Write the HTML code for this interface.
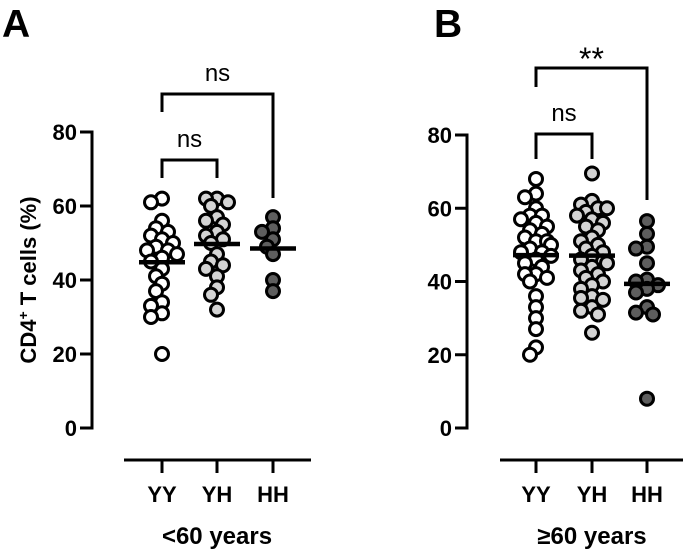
<!DOCTYPE html>
<html><head><meta charset="utf-8"><style>
body{margin:0;background:#fff;}
svg{display:block;font-family:"Liberation Sans",Arial,sans-serif;}
</style></head><body>
<svg id="chart" width="685" height="551" viewBox="0 0 685 551" xmlns="http://www.w3.org/2000/svg">
<g id="root"></g>
</svg>
<script>
const groups = ["YY","YH","HH"];
const fills = ["#ffffff","#d4d4d4","#5e5e5e"];
const yTicks = [0,20,40,60,80];
const aYY = [62,61,56,54,53,52,51,50,49,48,48,47,46,45,43,41,39,37,34,33,31,30,20];
const aYH = [62,62,61,60,57,56,55,53,52,51,50,47,45,44,43,41,38,36,32];
const aHH = [57,54,53,51,49,47,40,37];
const bYY = [68,64,63,60,58,58,57,56,55,54,53,52,51,51,50,49,48,48,47,46,45,44,42,42,41,40,36,33,30,27,22,20];
const bYH = [69.5,62,61,60,60,59,58,57,56,55,54,52,51,50,49,48,47,46,45.5,45,44,43,42,41,40,39,38,36,35.5,35,33,32,31,26];
const bHH = [56.5,53,49.5,49,45,40.5,40,39,38,37,33,31.5,31,8];
const panels = [
 {letter:"A",lx:2,axisX:92,tickLabelX:77,y0:428,y80:132,xs:[162,217,273],axL:124,axR:311,title:"<60 years",
  data:[aYY,aYH,aHH],
  brackets:[{a:0,b:2,y:94,la:112,lb:198,label:"ns",ly:81},{a:0,b:1,y:160,la:178,lb:178,label:"ns",ly:147}]},
 {letter:"B",lx:434,axisX:467,tickLabelX:452,y0:428,y80:135,xs:[536,592,647],axL:500,axR:683,title:"≥60 years",
  data:[bYY,bYH,bHH],
  brackets:[{a:0,b:2,y:68,la:87,lb:200,label:"**",ly:61,star:true},{a:0,b:1,y:134,la:159,lb:159,label:"ns",ly:121}]}
];
const NS="http://www.w3.org/2000/svg";
const root=document.getElementById('root');
function mk(tag,attrs,parent){const e=document.createElementNS(NS,tag);for(const k in attrs)e.setAttribute(k,attrs[k]);(parent||root).appendChild(e);return e;}
panels.forEach((p,pi)=>{
  const yS=v=>p.y0+(p.y80-p.y0)*v/80;
  const g=mk('g',{});
  
  
  const L=mk('text',{x:p.lx,y:37,'font-size':39,'font-weight':'bold'},g);L.textContent=p.letter;
  
  
  const ax=mk('line',{x1:p.axisX,y1:p.y80-1.5,x2:p.axisX,y2:p.y0+1.5,stroke:'#000','stroke-width':3},g);
  
  
  yTicks.forEach(t=>{
    mk('line',{x1:p.axisX-12,y1:yS(t),x2:p.axisX,y2:yS(t),stroke:'#000','stroke-width':3},g);
    const tl=mk('text',{x:p.tickLabelX,y:yS(t)+8,'font-size':22,'font-weight':'bold','text-anchor':'end'},g);
    tl.textContent=t;
    
    
  });
  const xa=mk('line',{x1:p.axL,y1:460,x2:p.axR,y2:460,stroke:'#000','stroke-width':3},g);
  
  
  groups.forEach((gn,i)=>{
    mk('line',{x1:p.xs[i],y1:460,x2:p.xs[i],y2:473,stroke:'#000','stroke-width':3},g);
    const xl=mk('text',{x:p.xs[i],y:502,'font-size':22,'font-weight':'bold','text-anchor':'middle'},g);
    xl.textContent=gn;
    
    
  });
  const tt=mk('text',{x:p.xs[1],y:544,'font-size':24,'font-weight':'bold','text-anchor':'middle'},g);
  tt.textContent=p.title;
  
  
  p.data.forEach((arr,i)=>{
    const used=[];
    arr.forEach((v,k)=>{
      const cy=yS(v);
      let off=0;const cands=[0,-6,6,-11,11,-15,15];
      for(const c of cands){if(used.every(u=>Math.hypot(u[0]-c,u[1]-cy)>=8.5)){off=c;break;}off=c;}
      used.push([off,cy]);
      const c=mk('circle',{cx:p.xs[i]+off,cy:cy,r:6.5,fill:fills[i],stroke:'#000','stroke-width':3},g);
      
      
    });
    const mean=arr.reduce((a,b)=>a+b,0)/arr.length;
    const ml=mk('line',{x1:p.xs[i]-23,y1:yS(mean),x2:p.xs[i]+23,y2:yS(mean),stroke:'#000','stroke-width':4.5},g);
    
    
  });
  p.brackets.forEach(b=>{
    const x1=p.xs[b.a],x2=p.xs[b.b];
    const pl=mk('polyline',{points:`${x1},${b.la} ${x1},${b.y} ${x2},${b.y} ${x2},${b.lb}`,fill:'none',stroke:'#000','stroke-width':3},g);
    
    
    const t=mk('text',{x:(x1+x2)/2,y:b.ly+(b.star?9:0),'font-size':b.star?32:24,'text-anchor':'middle'},g);
    t.textContent=b.label;
    
    
  });
});
const yl=mk('text',{x:0,y:0,'font-size':22,'font-weight':'bold','text-anchor':'middle',transform:'translate(36,280) rotate(-90)'});
yl.innerHTML='CD4<tspan baseline-shift="super" font-size="14">+</tspan> T cells (%)';


</script>
</body></html>
